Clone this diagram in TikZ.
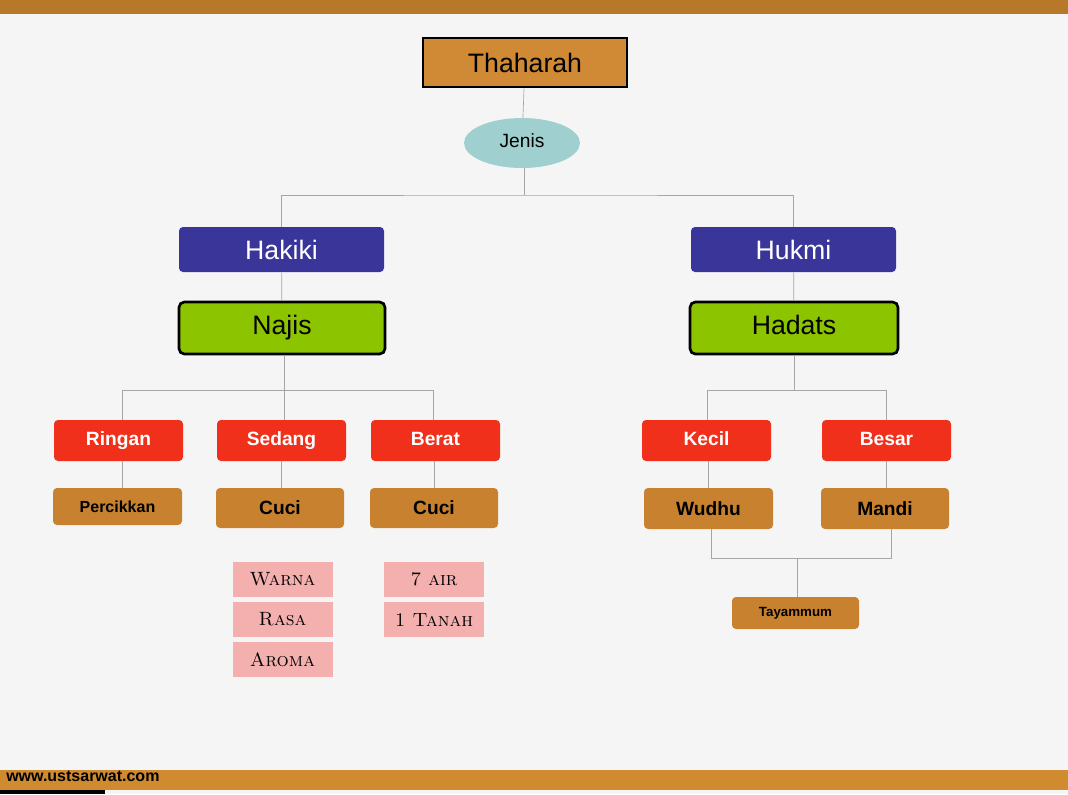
\documentclass[tikz,border=0pt]{standalone}
\usepackage{fontspec}
\setsansfont{Liberation Sans}
\usetikzlibrary{shapes.geometric}
\definecolor{orangeA}{HTML}{D08A35}
\definecolor{indigoA}{HTML}{3A3599}
\definecolor{greenA}{HTML}{8DC400}
\definecolor{redA}{HTML}{F0301A}
\definecolor{brownA}{HTML}{C8822F}
\definecolor{pinkA}{HTML}{F4AFAF}
\definecolor{barA}{HTML}{B8782A}
\definecolor{barB}{HTML}{D08A30}
\definecolor{tealA}{HTML}{A0CFCF}
\begin{document}
\begin{tikzpicture}[x=0.75pt,y=-0.75pt,
 conn/.style={draw=gray!70,line width=0.5pt},
 base/.style={inner sep=0pt,font=\sffamily},
 topbox/.style={base,draw=black,line width=2pt,fill=orangeA},
 blue/.style={base,fill=indigoA,rounded corners=3pt,text=white},
 green/.style={base,fill=greenA,draw=black,line width=2pt,rounded corners=4pt},
 red/.style={base,fill=redA,rounded corners=3pt,text=white},
 brown/.style={base,fill=brownA,rounded corners=3pt},
 pink/.style={inner sep=0pt,fill=pinkA,font=\scshape\Large}]
\fill[white!96!black] (0,0) rectangle (1068,794);
\useasboundingbox (0,0) rectangle (1068,794);
\fill[barA] (0,0) rectangle (1068,14);
\fill[barB] (0,770) rectangle (1068,790);
\fill[black] (0,790) rectangle (105,794);
\node[inner sep=0pt,anchor=west,font=\sffamily\bfseries\large] (url) at (6,776) {www.ustsarwat.com};
% nodes
\node[topbox,minimum width=204*0.75pt,minimum height=49*0.75pt,font=\sffamily\fontsize{20}{24}\selectfont] (tha) at (525,62.5) {Thaharah};
\node[base,ellipse,fill=tealA,minimum width=116*0.75pt,minimum height=50*0.75pt,font=\sffamily\Large] (jen) at (522,143) {Jenis\vphantom{g}};
\node[blue,minimum width=205*0.75pt,minimum height=45*0.75pt,font=\sffamily\fontsize{20}{24}\selectfont] (hak) at (281.5,249.5) {Hakiki};
\node[blue,minimum width=205*0.75pt,minimum height=45*0.75pt,font=\sffamily\fontsize{20}{24}\selectfont] (huk) at (793.5,249.5) {Hukmi};
\node[green,minimum width=206*0.75pt,minimum height=52*0.75pt,font=\sffamily\fontsize{20}{24}\selectfont] (naj) at (282,328) {Najis};
\node[green,minimum width=208*0.75pt,minimum height=52*0.75pt,font=\sffamily\fontsize{20}{24}\selectfont] (had) at (794,328) {Hadats\vphantom{j}};
\foreach \n/\t/\x in {rin/Ringan/118.5,sed/Sedang/281.5,ber/Berat/435.5,kec/Kecil/706.5,bes/Besar/886.5}
  \node[red,minimum width=129*0.75pt,minimum height=41*0.75pt,font=\sffamily\bfseries\Large] (\n) at (\x,440.5) {\t\vphantom{g}};
\node[brown,minimum width=129*0.75pt,minimum height=37*0.75pt,font=\sffamily\bfseries\large] (per) at (117.5,506.5) {Percikkan};
\node[brown,minimum width=128*0.75pt,minimum height=40*0.75pt,font=\sffamily\bfseries\Large] (cu1) at (280,508) {Cuci};
\node[brown,minimum width=128*0.75pt,minimum height=40*0.75pt,font=\sffamily\bfseries\Large] (cu2) at (434,508) {Cuci};
\node[brown,minimum width=129*0.75pt,minimum height=41*0.75pt,font=\sffamily\bfseries\Large] (wud) at (708.5,508.5) {Wudhu};
\node[brown,minimum width=128*0.75pt,minimum height=41*0.75pt,font=\sffamily\bfseries\Large] (man) at (885,508.5) {Mandi};
\node[brown,minimum width=127*0.75pt,minimum height=32*0.75pt,font=\sffamily\bfseries] (tay) at (795.5,613) {Tayammum};
\foreach \n/\t/\x/\y in {war/Warna/282.5/579.5,ras/Rasa/282.5/619.5,aro/Aroma/282.5/659.5,air/7 air/434/579.5,tan/1 Tanah/434/619.5}
  \node[pink,minimum width=100*0.75pt,minimum height=35*0.75pt] (\n) at (\x,\y) {\t};
% connectors
\coordinate (j1) at (524,195);
\draw[conn] (tha) -- (jen);
\draw[conn] (jen.south -| j1) -- (j1);
\draw[conn] (hak.north) |- (j1) -| (huk.north);
\draw[conn] (hak) -- (naj);
\draw[conn] (huk) -- (had);
\coordinate (n1) at (284,390);
\draw[conn] (naj.south -| n1) -- (n1);
\draw[conn] (rin.north -| 122,0) |- (n1) -| (ber.north -| 433,0);
\draw[conn] (n1) -- (sed.north -| n1);
\coordinate (h1) at (794,390);
\draw[conn] (had.south) -- (h1);
\draw[conn] (kec.north -| 707,0) |- (h1) -| (bes.north);
\foreach \a/\b/\x in {rin/per/122,sed/cu1/281,ber/cu2/434,kec/wud/708,bes/man/886} \draw[conn] (\a.south -| \x,0) -- (\b.north -| \x,0);
\coordinate (t1) at (797,558);
\draw[conn] (wud.south -| 711,0) |- (t1) -| (man.south -| 891,0);
\draw[conn] (t1) -- (tay.north -| t1);
\end{tikzpicture}
\end{document}
